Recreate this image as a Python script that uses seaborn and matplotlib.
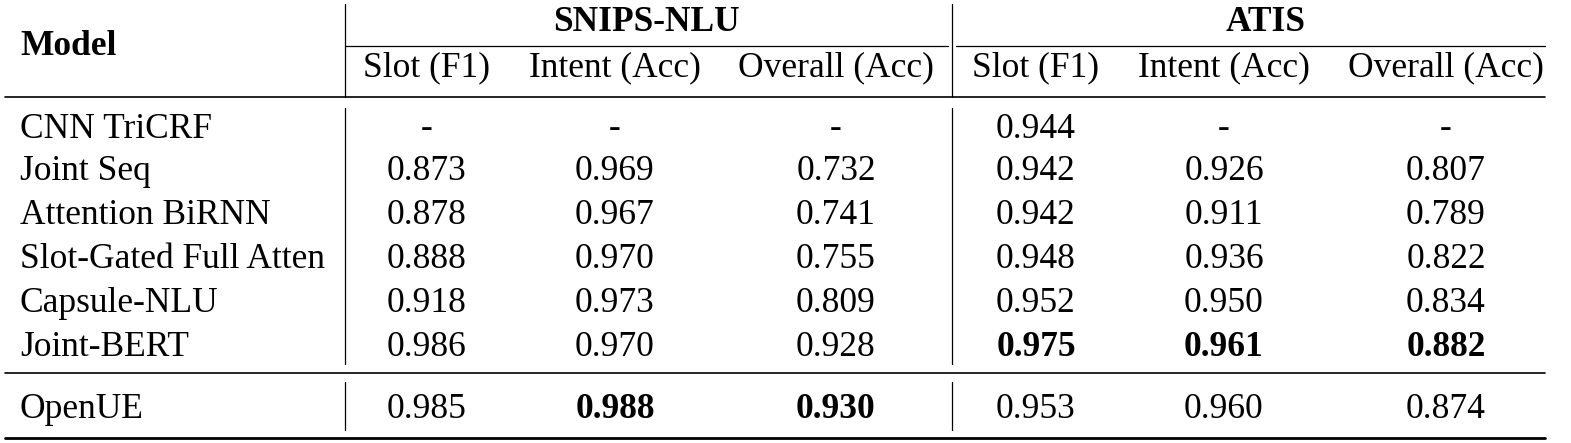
import matplotlib.pyplot as plt
import seaborn as sns

models = ["CNN TriCRF", "Joint Seq", "Attention BiRNN", "Slot-Gated Full Atten",
          "Capsule-NLU", "Joint-BERT", "OpenUE"]
datasets = ["SNIPS-NLU", "ATIS"]
metrics = ["Slot (F1)", "Intent (Acc)", "Overall (Acc)"]
snips_slot = ["-", "0.873", "0.878", "0.888", "0.918", "0.986", "0.985"]
snips_intent = ["-", "0.969", "0.967", "0.970", "0.973", "0.970", "0.988"]
snips_overall = ["-", "0.732", "0.741", "0.755", "0.809", "0.928", "0.930"]
atis_slot = ["0.944", "0.942", "0.942", "0.948", "0.952", "0.975", "0.953"]
atis_intent = ["-", "0.926", "0.911", "0.936", "0.950", "0.961", "0.960"]
atis_overall = ["-", "0.807", "0.789", "0.822", "0.834", "0.882", "0.874"]
# (row, column) cells set in bold
bold_cells = {(6, 1), (6, 2), (5, 3), (5, 4), (5, 5)}

sns.set_theme(style="white")
plt.rcParams['font.family'] = ['Liberation Serif', 'DejaVu Serif']
plt.rcParams['text.color'] = 'black'

W, H = 1571, 443
fig = plt.figure(figsize=(W / 100, H / 100), dpi=100)
ax = fig.add_axes([0, 0, 1, 1])
ax.set_xlim(0, W)
ax.set_ylim(H, 0)
ax.axis("off")

fs = 25.5
col_x = [427, 615, 836, 1036, 1224, 1446]
row_y = [129, 172, 215, 259, 303, 347, 410]
vlines = [345, 952]

# rules
ax.plot([345, 948], [46, 46], color="black", lw=0.9)
ax.plot([956, 1545], [46, 46], color="black", lw=0.9)
ax.plot([5, 1545], [97, 97], color="black", lw=1.2)
ax.plot([5, 1545], [373, 373], color="black", lw=1.2)
ax.plot([5, 1545], [438, 438], color="black", lw=2)
for x in vlines:
    for y0, y1 in [(4, 97), (108, 364), (382, 430)]:
        ax.plot([x, x], [y0, y1], color="black", lw=0.9)

# header
ax.text(20, 46, "Model", fontsize=fs, fontweight="bold", va="center", ha="left")
ax.text(646, 22, datasets[0], fontsize=fs, fontweight="bold", va="center", ha="center")
ax.text(1266, 22, datasets[1], fontsize=fs, fontweight="bold", va="center", ha="center")
for i, x in enumerate(col_x):
    ax.text(x, 68, metrics[i % 3], fontsize=fs, va="center", ha="center")

columns = [snips_slot, snips_intent, snips_overall, atis_slot, atis_intent, atis_overall]
for r, name in enumerate(models):
    ax.text(20, row_y[r], name, fontsize=fs, va="center", ha="left")
    for c, col in enumerate(columns):
        weight = "bold" if (r, c) in bold_cells else "normal"
        ax.text(col_x[c], row_y[r], col[r], fontsize=fs, va="center", ha="center",
                fontweight=weight)

fig.savefig("out.png", dpi=100)
